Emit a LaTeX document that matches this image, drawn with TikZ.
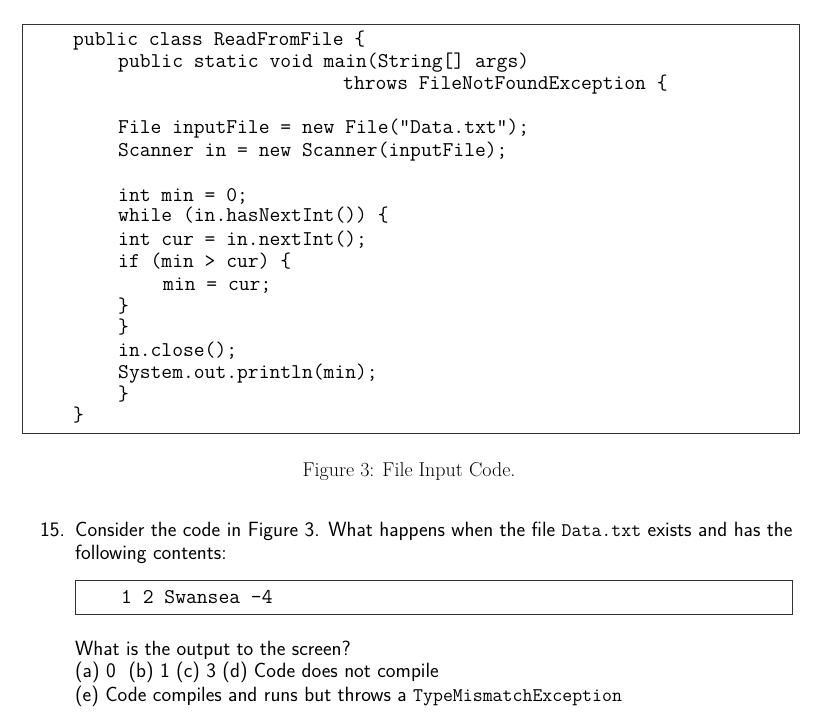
\documentclass[tikz,border=0pt]{standalone}
\usepackage{fontspec}
\newcommand{\cd}{\fontsize{21}{24}\ttfamily}
\newcommand{\tts}{\fontsize{19.3}{22}\ttfamily}
\begin{document}
\begin{tikzpicture}[x=1pt,y=1pt,
  cl/.style={anchor=base west,inner sep=0pt,font=\cd},
  tx/.style={anchor=base west,inner sep=0pt,font=\fontsize{20.6}{24}\sffamily},
  frame/.style={draw=black!80,line width=0.8pt}]
\useasboundingbox (0,0) rectangle (832,-714);
\draw[frame] (22,-24) rectangle (799,-433);
\node[cl] (c1) at (73,-46) {public class ReadFromFile \{};
\node[cl] (c2) at (118,-68) {public static void main(String[] args)};
\node[cl] (c3) at (343,-90) {throws FileNotFoundException \{};
\node[cl] (c4) at (118,-134) {File inputFile = new File("Data.txt");};
\node[cl] (c5) at (118,-157) {Scanner in = new Scanner(inputFile);};
\node[cl] (c6) at (118,-201) {int min = 0;};
\node[cl] (c7) at (118,-222) {while (in.hasNextInt()) \{};
\node[cl] (c8) at (118,-245) {int cur = in.nextInt();};
\node[cl] (c9) at (118,-267) {if (min > cur) \{};
\node[cl] (c10) at (163,-290) {min = cur;};
\node[cl] (c11) at (118,-312) {\}};
\node[cl] (c12) at (118,-333) {\}};
\node[cl] (c13) at (118,-356) {in.close();};
\node[cl] (c14) at (118,-378) {System.out.println(min);};
\node[cl] (c15) at (118,-400) {\}};
\node[cl] (c16) at (73,-421) {\}};
\node[anchor=base,inner sep=0pt,font=\fontsize{20}{24}\rmfamily] (cap) at (409,-476) {Figure 3: File Input Code.};
\node[tx] (q0) at (40,-536) {15.};
\node[tx] (q1) at (75,-536) {Consider the code in Figure 3. What happens when the file {\tts Data.txt} exists and has the};
\node[tx] (q2) at (75,-559) {following contents:};
\draw[frame] (75,-580) rectangle (792,-614);
\node[cl] (d) at (121,-603) {1 2 Swansea -4};
\node[tx] (q3) at (75,-655) {What is the output to the screen?};
\node[tx] (q4) at (75,-677) {(a) 0\ \ (b) 1 (c) 3 (d) Code does not compile};
\node[tx] (q5) at (75,-701) {(e) Code compiles and runs but throws a {\tts TypeMismatchException}};
\end{tikzpicture}
\end{document}
